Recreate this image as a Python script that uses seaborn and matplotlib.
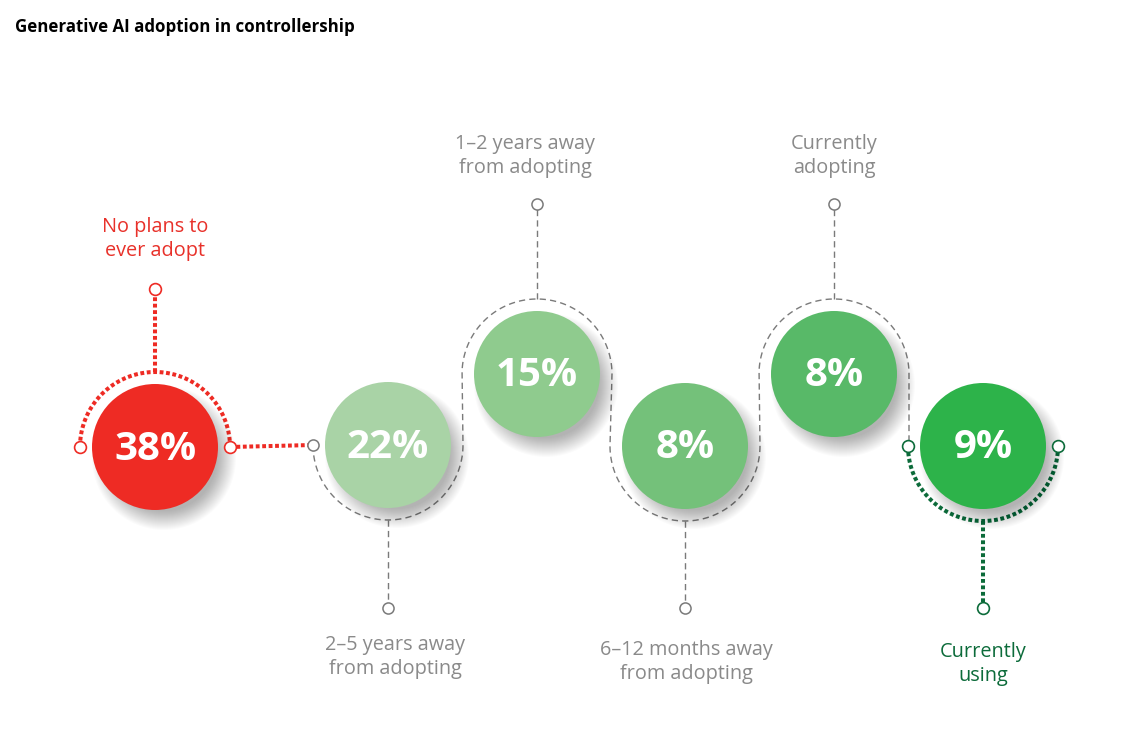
import numpy as np
import matplotlib
matplotlib.use("Agg")
import matplotlib.pyplot as plt
from matplotlib.patches import Circle
import seaborn as sns
import pandas as pd

### datos
title = "Generative AI adoption in controllership"
stages = ["No plans to\never adopt", "2–5 years away\nfrom adopting", "1–2 years away\nfrom adopting",
          "6–12 months away\nfrom adopting", "Currently\nadopting", "Currently\nusing"]
shares = [38, 22, 15, 8, 8, 9]

### layout (pixel units, y grows downward)
cx = [155, 388, 537, 685, 834, 983]
cy = [447, 445, 374, 446, 374, 446]
label_x = [155, 395, 525, 686, 834, 983]
label_y = [239, 657, 156, 662, 156, 664]
fills = ["#EE2B24", "#A9D3A6", "#8FCB8E", "#74C17A", "#58B968", "#2DB34A"]
label_cols = ["#E8312A", "#8A8A8A", "#8A8A8A", "#8A8A8A", "#8A8A8A", "#0C6B3A"]
RED, GREY, DKGREEN = "#EE2B24", "#7A7A7A", "#0C6B3A"
R = 63   # disc radius
A = 75   # arc radius
W, H = 1143, 747

sns.set_theme(style="white")
plt.rcParams["font.family"] = ["Open Sans", "DejaVu Sans"]

fig = plt.figure(figsize=(W / 100, H / 100), dpi=100)
ax = fig.add_axes([0, 0, 1, 1])


def arc(i, below):
	t = np.linspace(np.pi, 0, 80) if below else np.linspace(np.pi, 2 * np.pi, 80)
	return cx[i] + A * np.cos(t), cy[i] + A * np.sin(t)


dotted = dict(lw=2.9, ls=(0, (0.95, 0.65)), dash_capstyle="butt", zorder=2)
dashed = dict(color=GREY, lw=1.0, ls=(0, (4.5, 3)), zorder=2)

### sombras
for i in range(len(shares)):
	for r in np.linspace(R - 10, R + 9, 20):
		ax.add_patch(Circle((cx[i] + 9, cy[i] + 11), r, color="black", alpha=0.016, lw=0, zorder=2.5))

### circulos
df = pd.DataFrame({"x": cx, "y": cy, "stage": stages})
sns.scatterplot(data=df, x="x", y="y", hue="stage", palette=fills, s=(2 * R * 0.72) ** 2,
                linewidth=0, legend=False, ax=ax, zorder=3)
for i, v in enumerate(shares):
	ax.text(cx[i], cy[i] + 2, f"{v}%", color="white", fontsize=29, fontweight="bold",
	        ha="center", va="center", zorder=4)

### camino gris
xs, ys = [], []
for i, below in [(1, True), (2, False), (3, True), (4, False)]:
	ax_, ay_ = arc(i, below)
	xs.extend(ax_); ys.extend(ay_)
xs.append(cx[4] + A); ys.append(cy[5])
ax.plot(xs, ys, **dashed)
for i in range(1, 5):
	if cy[i] < 400:
		ax.plot([cx[i], cx[i]], [cy[i] - A, 204], **dashed)
	else:
		ax.plot([cx[i], cx[i]], [cy[i] + A, 608], **dashed)
ax.plot([cx[1], cx[2], cx[3], cx[4], cx[1] - A],
        [608, 204, 608, 204, cy[1]], ls="none", marker="o", ms=8, mfc="white", mec=GREY, mew=1.1, zorder=5)

### rojo
rx, ry = arc(0, False)
ax.plot(rx, ry, color=RED, **dotted)
ax.plot([cx[0], cx[0]], [cy[0] - A, 289], color=RED, **dotted)
ax.plot([cx[0] + A, cx[1] - A], [cy[0], cy[1]], color=RED, **dotted)
ax.plot([cx[0] - A, cx[0] + A, cx[0]], [cy[0], cy[0], 289], ls="none", marker="o", ms=8.5,
        mfc="white", mec=RED, mew=1.2, zorder=5)

### verde oscuro
gx, gy = arc(5, True)
ax.plot(gx, gy, color=DKGREEN, **dotted)
ax.plot([cx[5], cx[5]], [cy[5] + A, 608], color=DKGREEN, **dotted)
ax.plot([cx[5] - A, cx[5] + A, cx[5]], [cy[5], cy[5], 608], ls="none", marker="o", ms=8.5,
        mfc="white", mec=DKGREEN, mew=1.2, zorder=5)

### etiquetas
for i, s in enumerate(stages):
	ax.text(label_x[i], label_y[i], s, color=label_cols[i], fontsize=14.3, ha="center", va="center",
	        linespacing=1.22)

ax.text(15, 27, title, fontsize=12.2, fontweight="bold", color="black", ha="left", va="center")

ax.set_xlim(0, W)
ax.set_ylim(H, 0)
ax.set_aspect("auto")
ax.axis("off")
plt.savefig("out.png", dpi=100, facecolor="white")
